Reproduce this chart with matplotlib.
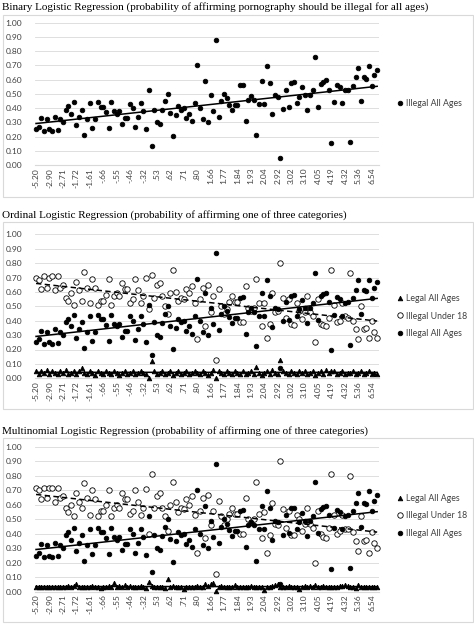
import numpy as np
import matplotlib
matplotlib.use('Agg')
import matplotlib.pyplot as plt
from matplotlib.patches import Rectangle
from matplotlib.lines import Line2D

# category labels shown on the x axis (every 5th category)
tick_labels = ['-5.20', '-2.90', '-2.71', '-1.72', '-1.61', '-.66', '-.55', '-.46', '-.32', '.53',
               '.62', '.71', '.80', '1.66', '1.77', '1.84', '1.93', '2.04', '2.92', '3.02',
               '3.10', '4.05', '4.19', '4.32', '5.36', '6.54']

# Binary logistic regression
bin_illegal_all = [
    0.25, 0.27, 0.33, 0.24, 0.32, 0.25, 0.24, 0.34, 0.245, 0.32,
    0.30, 0.39, 0.415, 0.36, 0.44, 0.28, 0.34, 0.39, 0.21, 0.32,
    0.435, 0.26, 0.325, 0.44, 0.41, 0.41, 0.37, 0.26, 0.44, 0.38,
    0.36, 0.38, 0.29, 0.33, 0.33, 0.43, 0.40, 0.265, 0.34, 0.435,
    0.38, 0.255, 0.525, 0.135, 0.39, 0.30, 0.29, 0.385, 0.45, 0.50,
    0.365, 0.205, 0.35, 0.415, 0.39, 0.40, 0.33, 0.36, 0.31, 0.435,
    0.70, 0.40, 0.32, 0.59, 0.30, 0.49, 0.38, 0.88, 0.335, 0.45,
    0.50, 0.47, 0.425, 0.385, 0.42, 0.42, 0.56, 0.565, 0.31, 0.46,
    0.485, 0.46, 0.21, 0.43, 0.59, 0.43, 0.695, 0.575, 0.355, 0.49,
    0.48, 0.05, 0.395, 0.53, 0.405, 0.575, 0.58, 0.435, 0.48, 0.545,
    0.49, 0.385, 0.49, 0.525, 0.76, 0.405, 0.57, 0.585, 0.595, 0.53,
    0.155, 0.44, 0.565, 0.55, 0.435, 0.525, 0.53, 0.165, 0.555, 0.615,
    0.685, 0.45, 0.615, 0.605, 0.695, 0.555, 0.63, 0.67]

# Ordinal logistic regression
ord_legal = [
    0.05, 0.03, 0.05, 0.04, 0.06, 0.03, 0.05, 0.04, 0.03, 0.05,
    0.04, 0.06, 0.03, 0.04, 0.05, 0.03, 0.05, 0.07, 0.04, 0.03,
    0.05, 0.04, 0.02, 0.05, 0.04, 0.03, 0.05, 0.04, 0.03, 0.05,
    0.04, 0.02, 0.04, 0.05, 0.03, 0.04, 0.05, 0.03, 0.04, 0.05,
    0.04, 0.03, 0.00, 0.12, 0.05, 0.03, 0.04, 0.05, 0.03, 0.04,
    0.05, 0.02, 0.04, 0.05, 0.03, 0.04, 0.05, 0.03, 0.04, 0.05,
    0.04, 0.03, 0.05, 0.04, 0.02, 0.04, 0.06, 0.00, 0.05, 0.04,
    0.03, 0.05, 0.04, 0.03, 0.05, 0.04, 0.03, 0.05, 0.03, 0.04,
    0.05, 0.03, 0.08, 0.04, 0.02, 0.04, 0.05, 0.03, 0.06, 0.04,
    0.03, 0.13, 0.05, 0.04, 0.03, 0.05, 0.04, 0.03, 0.05, 0.04,
    0.05, 0.03, 0.04, 0.05, 0.02, 0.04, 0.05, 0.03, 0.06, 0.04,
    0.05, 0.05, 0.03, 0.04, 0.05, 0.03, 0.04, 0.04, 0.05, 0.03,
    0.04, 0.05, 0.03, 0.04, 0.05, 0.03, 0.04, 0.03]
ord_under18 = [
    0.70, 0.68, 0.62, 0.71, 0.63, 0.70, 0.71, 0.61, 0.71, 0.63,
    0.65, 0.56, 0.54, 0.59, 0.51, 0.67, 0.61, 0.54, 0.74, 0.63,
    0.52, 0.69, 0.63, 0.51, 0.54, 0.54, 0.58, 0.69, 0.51, 0.57,
    0.59, 0.57, 0.66, 0.62, 0.62, 0.52, 0.55, 0.69, 0.61, 0.52,
    0.57, 0.70, 0.48, 0.72, 0.56, 0.65, 0.66, 0.57, 0.50, 0.45,
    0.59, 0.75, 0.60, 0.54, 0.56, 0.55, 0.62, 0.59, 0.64, 0.52,
    0.27, 0.55, 0.63, 0.36, 0.65, 0.46, 0.57, 0.13, 0.62, 0.50,
    0.45, 0.48, 0.53, 0.57, 0.53, 0.53, 0.39, 0.39, 0.64, 0.49,
    0.47, 0.49, 0.69, 0.52, 0.36, 0.52, 0.28, 0.38, 0.59, 0.46,
    0.47, 0.80, 0.56, 0.42, 0.55, 0.38, 0.37, 0.52, 0.47, 0.41,
    0.46, 0.57, 0.46, 0.43, 0.25, 0.55, 0.38, 0.37, 0.36, 0.42,
    0.75, 0.51, 0.39, 0.40, 0.52, 0.43, 0.42, 0.73, 0.40, 0.34,
    0.27, 0.50, 0.34, 0.35, 0.28, 0.40, 0.32, 0.28]
ord_illegal_all = [
    0.25, 0.27, 0.33, 0.24, 0.32, 0.25, 0.24, 0.34, 0.245, 0.32,
    0.30, 0.39, 0.415, 0.36, 0.44, 0.28, 0.34, 0.39, 0.21, 0.32,
    0.435, 0.26, 0.325, 0.44, 0.41, 0.41, 0.37, 0.26, 0.44, 0.38,
    0.36, 0.38, 0.29, 0.33, 0.33, 0.43, 0.40, 0.265, 0.34, 0.435,
    0.38, 0.255, 0.51, 0.16, 0.39, 0.30, 0.29, 0.385, 0.45, 0.50,
    0.365, 0.205, 0.35, 0.415, 0.39, 0.40, 0.33, 0.36, 0.31, 0.435,
    0.69, 0.40, 0.32, 0.59, 0.30, 0.49, 0.38, 0.87, 0.335, 0.45,
    0.50, 0.47, 0.425, 0.385, 0.42, 0.42, 0.56, 0.565, 0.31, 0.46,
    0.485, 0.46, 0.225, 0.43, 0.59, 0.43, 0.68, 0.575, 0.355, 0.49,
    0.48, 0.07, 0.395, 0.53, 0.405, 0.575, 0.58, 0.435, 0.48, 0.545,
    0.49, 0.385, 0.49, 0.525, 0.73, 0.405, 0.57, 0.585, 0.595, 0.53,
    0.20, 0.44, 0.565, 0.55, 0.435, 0.525, 0.53, 0.23, 0.555, 0.615,
    0.685, 0.45, 0.615, 0.605, 0.68, 0.555, 0.63, 0.67]

# Multinomial logistic regression
mn_legal = [
    0.03, 0.035, 0.03, 0.035, 0.03, 0.035, 0.03, 0.03, 0.035, 0.03,
    0.035, 0.03, 0.04, 0.035, 0.04, 0.055, 0.03, 0.035, 0.035, 0.03,
    0.035, 0.04, 0.03, 0.035, 0.025, 0.035, 0.03, 0.04, 0.035, 0.06,
    0.035, 0.04, 0.03, 0.045, 0.035, 0.04, 0.035, 0.03, 0.035, 0.04,
    0.035, 0.025, 0.07, 0.04, 0.03, 0.035, 0.035, 0.03, 0.025, 0.085,
    0.035, 0.04, 0.035, 0.03, 0.035, 0.02, 0.03, 0.035, 0.03, 0.035,
    0.04, 0.03, 0.035, 0.05, 0.04, 0.055, 0.06, 0.005, 0.035, 0.04,
    0.035, 0.03, 0.035, 0.035, 0.045, 0.035, 0.03, 0.035, 0.03, 0.035,
    0.04, 0.035, 0.03, 0.035, 0.035, 0.015, 0.03, 0.035, 0.04, 0.045,
    0.055, 0.035, 0.03, 0.035, 0.04, 0.035, 0.03, 0.035, 0.02, 0.035,
    0.04, 0.035, 0.04, 0.03, 0.045, 0.03, 0.035, 0.04, 0.035, 0.03,
    0.035, 0.03, 0.035, 0.04, 0.04, 0.045, 0.04, 0.035, 0.03, 0.025,
    0.045, 0.035, 0.03, 0.035, 0.03, 0.035, 0.03, 0.035]
mn_under18 = [
    0.72, 0.70, 0.64, 0.72, 0.65, 0.72, 0.72, 0.62, 0.72, 0.65,
    0.66, 0.58, 0.55, 0.60, 0.52, 0.68, 0.62, 0.58, 0.75, 0.65,
    0.53, 0.70, 0.64, 0.52, 0.56, 0.56, 0.60, 0.70, 0.52, 0.58,
    0.60, 0.58, 0.68, 0.64, 0.64, 0.54, 0.56, 0.70, 0.62, 0.53,
    0.58, 0.71, 0.40, 0.81, 0.58, 0.66, 0.68, 0.58, 0.52, 0.42,
    0.60, 0.76, 0.62, 0.55, 0.58, 0.57, 0.64, 0.60, 0.66, 0.53,
    0.27, 0.56, 0.65, 0.37, 0.67, 0.46, 0.56, 0.12, 0.63, 0.52,
    0.46, 0.50, 0.54, 0.58, 0.54, 0.54, 0.40, 0.40, 0.65, 0.50,
    0.48, 0.50, 0.76, 0.54, 0.37, 0.55, 0.27, 0.39, 0.61, 0.47,
    0.46, 0.90, 0.57, 0.44, 0.56, 0.39, 0.39, 0.53, 0.50, 0.42,
    0.47, 0.58, 0.47, 0.44, 0.20, 0.56, 0.40, 0.38, 0.37, 0.44,
    0.81, 0.53, 0.40, 0.42, 0.53, 0.43, 0.43, 0.80, 0.41, 0.35,
    0.28, 0.52, 0.35, 0.36, 0.27, 0.41, 0.34, 0.30]
mn_illegal_all = [
    0.25, 0.27, 0.33, 0.24, 0.32, 0.25, 0.24, 0.34, 0.245, 0.32,
    0.30, 0.39, 0.415, 0.36, 0.44, 0.28, 0.34, 0.39, 0.21, 0.32,
    0.435, 0.26, 0.325, 0.44, 0.41, 0.41, 0.37, 0.26, 0.44, 0.38,
    0.36, 0.38, 0.29, 0.33, 0.33, 0.43, 0.40, 0.265, 0.34, 0.435,
    0.38, 0.255, 0.525, 0.135, 0.39, 0.30, 0.29, 0.385, 0.45, 0.50,
    0.365, 0.205, 0.35, 0.415, 0.39, 0.40, 0.33, 0.36, 0.31, 0.435,
    0.70, 0.40, 0.32, 0.59, 0.30, 0.49, 0.38, 0.88, 0.335, 0.45,
    0.50, 0.47, 0.425, 0.385, 0.42, 0.42, 0.56, 0.565, 0.31, 0.46,
    0.485, 0.46, 0.21, 0.43, 0.59, 0.43, 0.695, 0.575, 0.355, 0.49,
    0.48, 0.05, 0.395, 0.53, 0.405, 0.575, 0.58, 0.435, 0.48, 0.545,
    0.49, 0.385, 0.49, 0.525, 0.76, 0.405, 0.57, 0.585, 0.595, 0.53,
    0.155, 0.44, 0.565, 0.55, 0.435, 0.525, 0.53, 0.165, 0.555, 0.615,
    0.685, 0.45, 0.615, 0.605, 0.695, 0.555, 0.63, 0.67]

titles = ['Binary Logistic Regression (probability of affirming pornography should be illegal for all ages)',
          'Ordinal Logistic Regression (probability of affirming one of three categories)',
          'Multinomial Logistic Regression (probability of affirming one of three categories)']

plt.rcParams['font.family'] = ['Lato', 'DejaVu Sans']
W, H = 474, 625
grid_c = '#d9d9d9'


def fx(px):
    return px / W


def fy(py):
    return 1 - py / H


fig = plt.figure(figsize=(W / 100, H / 100), dpi=100)

# chart boxes (top, bottom in pixels), title centre y, plot area y for 1.00 and 0.00
boxes = [(15, 197), (222, 409), (438, 622)]
title_y = [7, 215, 431]
plot_y = [(22.7, 165), (234.3, 378.3), (447, 591.7)]
legend_y = [104, 316, 516]

styles = {
    'Legal All Ages': dict(marker='^', mfc='black', mec='black', ms=3.3, ls='-'),
    'Illegal Under 18': dict(marker='o', mfc='white', mec='black', ms=3.9, ls=(0, (3.5, 2.2))),
    'Illegal All Ages': dict(marker='o', mfc='black', mec='black', ms=3.3, ls='-'),
}

panels = [
    [('Illegal All Ages', bin_illegal_all)],
    [('Legal All Ages', ord_legal), ('Illegal Under 18', ord_under18), ('Illegal All Ages', ord_illegal_all)],
    [('Legal All Ages', mn_legal), ('Illegal Under 18', mn_under18), ('Illegal All Ages', mn_illegal_all)],
]

x = np.arange(len(bin_illegal_all))
ax_left, ax_right = 34.7, 378.5

for i, series in enumerate(panels):
    top, bot = boxes[i]
    fig.patches.append(Rectangle((fx(3), fy(bot)), fx(470), (bot - top) / H, transform=fig.transFigure,
                                 facecolor='white', edgecolor=grid_c, lw=0.8, zorder=-10))
    fig.text(fx(2), fy(title_y[i]), titles[i], family=['Liberation Serif'], fontsize=8.05,
             va='center', ha='left')
    y1, y0 = plot_y[i]
    ax = fig.add_axes([fx(ax_left), fy(y0), (ax_right - ax_left) / W, (y0 - y1) / H], zorder=1)
    ax.patch.set_alpha(0)
    ax.set_xlim(-0.5, len(x) - 0.5)
    ax.set_ylim(0, 1)
    ax.set_yticks(np.arange(0, 1.01, 0.1))
    ax.set_yticklabels(['%.2f' % v for v in np.arange(0, 1.01, 0.1)], fontsize=6, color='#404040')
    ax.set_xticks(x[::5])
    ax.set_xticklabels(tick_labels, rotation=90, fontsize=6, color='#404040')
    ax.tick_params(axis='both', length=0, pad=2)
    ax.tick_params(axis='y', pad=9)
    ax.grid(axis='y', color=grid_c, lw=0.6)
    ax.set_axisbelow(True)
    for s in ['top', 'right', 'left']:
        ax.spines[s].set_visible(False)
    ax.spines['bottom'].set_color(grid_c)
    ax.spines['bottom'].set_linewidth(0.8)

    handles = []
    for name, vals in series:
        st = styles[name]
        ax.plot(x, vals, ls='none', marker=st['marker'], mfc=st['mfc'], mec=st['mec'],
                ms=st['ms'], mew=0.6, zorder=3, clip_on=False)
        coef = np.polyfit(x, vals, 1)
        ax.plot(x, np.polyval(coef, x), color='black', lw=1.1, ls=st['ls'], zorder=4)
        handles.append(Line2D([], [], ls='none', marker=st['marker'], mfc=st['mfc'], mec=st['mec'],
                              ms=st['ms'], mew=0.6, label=name))
    fig.legend(handles=handles, loc='center left', bbox_to_anchor=(fx(393), fy(legend_y[i])),
               frameon=False, fontsize=6.3, handlelength=0.6, handletextpad=0.4,
               labelspacing=0.95, borderpad=0, labelcolor='#404040')

fig.savefig('out.png', dpi=100)
